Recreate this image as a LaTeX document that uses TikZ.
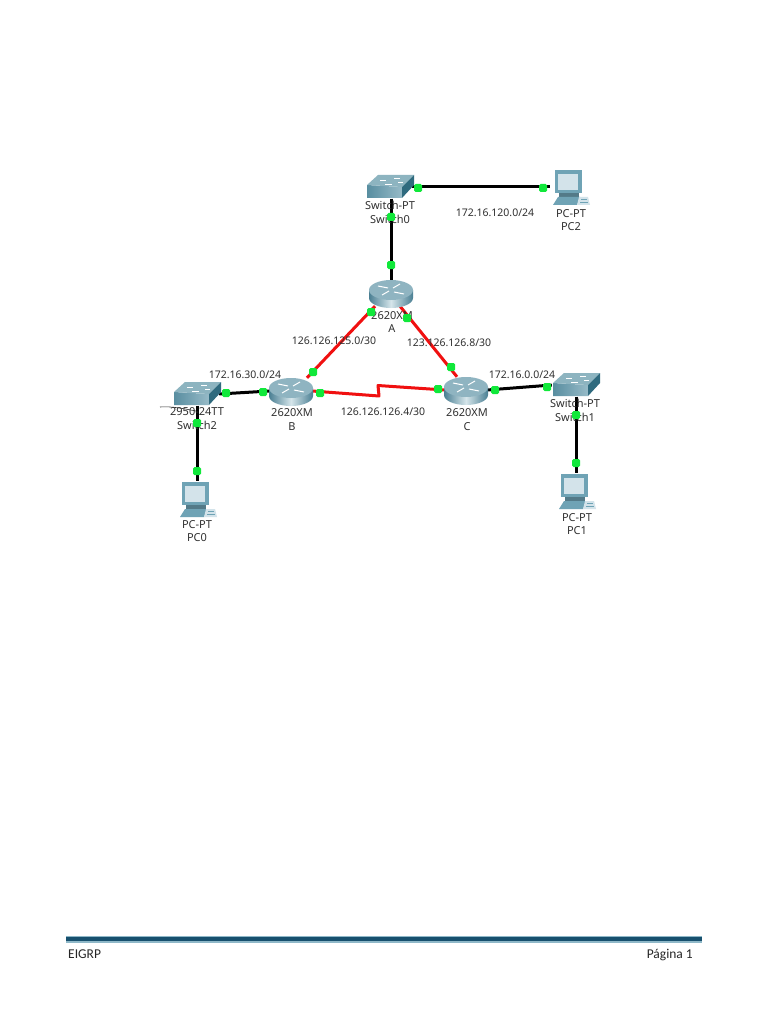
\documentclass[tikz,border=0pt]{standalone}
\usepackage{fontspec}
\setmainfont{Noto Sans}
\newfontfamily\footfont{Carlito}
\definecolor{swtop}{HTML}{8DB4C0}
\definecolor{swfront}{HTML}{6A9DAF}
\definecolor{swside}{HTML}{2F6A7E}
\definecolor{rtdark}{HTML}{4A7F93}
\definecolor{rtlight}{HTML}{D5E5EA}
\definecolor{rttop}{HTML}{8FB4C1}
\definecolor{pcbody}{HTML}{6FA3B5}
\definecolor{pcscreen}{HTML}{D3E3EA}
\definecolor{lab}{HTML}{303030}
\definecolor{linkgreen}{HTML}{10E83A}
\definecolor{linkred}{HTML}{F01010}
\definecolor{barblue}{HTML}{17506E}
\definecolor{barlight}{HTML}{8FB8C8}
\tikzset{
  x=1pt,y=-1pt,
  swbox/.style={minimum width=46pt,minimum height=23pt,inner sep=0pt},
  rtbox/.style={minimum width=42pt,minimum height=26pt,inner sep=0pt},
  pcbox/.style={minimum width=40pt,minimum height=36pt,inner sep=0pt},
  lan/.style={draw=black,line width=3pt},
  wan/.style={draw=linkred,line width=3pt,line join=round},
  dot/.style={fill=linkgreen,rounded corners=1.5pt,minimum width=8pt,minimum height=8pt,inner sep=0pt},
  lbl/.style={font=\fontsize{11}{13.5}\selectfont,text=lab,inner sep=0pt,align=center},
  iplbl/.style={font=\fontsize{10.5}{12}\selectfont,text=lab,inner sep=0pt},
  foot/.style={font=\footfont\fontsize{13.5}{15}\selectfont,text=black!85,inner sep=0pt},
  swicon/.pic={
    \shade[left color=swfront!70!swside,right color=swfront!70!white] (-22,-2) -- (13,0) -- (13,11) -- (-22,11) -- cycle;
    \fill[swtop] (-22,-2) -- (-11,-12) -- (25,-12) -- (13,0) -- cycle;
    \fill[swside] (13,0) -- (25,-12) -- (25,-2) -- (13,11) -- cycle;
    \draw[white,line width=.7pt] (-9,-7) -- (-3,-7) (5,-9) -- (11,-9) (-4,-3) -- (3,-3) (9,-5) -- (14,-5);
  },
  rticon/.pic={
    \shade[left color=rtdark,right color=rtdark,middle color=rtlight]
      (-22,-3) -- (-22,5) arc[start angle=180,end angle=0,x radius=22,y radius=10] -- (22,-3) -- cycle;
    \fill[rttop] (0,-3) ellipse[x radius=22,y radius=10];
    \draw[white,line width=1pt] (-13,-7) -- (-3,-5) (13,1) -- (3,-1) (-9,2) -- (-2,-2) (9,-9) -- (2,-5);
  },
  pcicon/.pic={
    \fill[pcbody] (-15,-17) -- (12,-17) -- (12,6) -- (-15,6) -- cycle;
    \fill[pcscreen] (-12,-13) rectangle (8,3);
    \fill[pcbody!75!black] (-11,6) rectangle (9,10);
    \fill[pcbody] (-17,18) -- (-12,10) -- (10,10) -- (7,18) -- cycle;
    \fill[pcscreen] (9,10) -- (18,10) -- (20,18) -- (7,18) -- cycle;
    \draw[pcbody,line width=.7pt] (11,12) -- (17,12) (10,15) -- (18,15);
  }
}
\begin{document}
\begin{tikzpicture}
\useasboundingbox (0,0) rectangle (768,1024);
\fill[white] (0,0) rectangle (768,1024);

% devices (anchors for the connectors)
\node[swbox] (sw0) at (389,187) {};
\node[swbox] (sw1) at (575,385) {};
\node[swbox] (sw2) at (196,394) {};
\node[rtbox] (ra) at (391,293) {};
\node[rtbox] (rb) at (291,391) {};
\node[rtbox] (rc) at (466,390) {};
\node[pcbox] (pc0) at (197,499) {};
\node[pcbox] (pc1) at (576,491) {};
\node[pcbox] (pc2) at (570,187) {};
\coordinate (zz1) at (379,396);
\coordinate (zz2) at (378,385.5);
\coordinate (zz3) at (400,387);

% connectors
\draw[lan] (sw0.south -| ra.north) -- (ra.north);
\draw[lan] (sw0.east) -- (pc2.west);
\draw[lan] (sw2.east) -- (rb.west);
\draw[lan] (rc.east) -- (sw1.west);
\draw[lan] (sw2.south -| pc0.north) -- (pc0.north);
\draw[lan] (sw1.south -| pc1.north) -- (pc1.north);
\draw[wan] ([xshift=-16pt]ra.south) -- ([xshift=16pt]rb.north);
\draw[wan] ([xshift=9pt]ra.south) -- ([xshift=-9pt]rc.north);
\draw[wan] (rb.east) -- (zz1) -- (zz2) -- (zz3) -- (rc.west);

% icons
\pic at (sw0) {swicon};
\pic at (sw1) {swicon};
\pic at (sw2) {swicon};
\pic at (ra) {rticon};
\pic at (rb) {rticon};
\pic at (rc) {rticon};
\pic at (pc0) {pcicon};
\pic at (pc1) {pcicon};
\pic at (pc2) {pcicon};

% stray pen stroke
\draw[black!80,line width=.6pt] (160,407) .. controls (172,406) and (185,409) .. (196,411);

% labels
\node[lbl] (l1) at (390,212.5) {Switch-PT\\Switch0};
\node[lbl] (l2) at (571,220) {PC-PT\\PC2};
\node[iplbl] (l3) at (495,213) {172.16.120.0/24};
\node[lbl] (l4) at (392,322) {2620XM\\A};
\node[iplbl] (l5) at (334,341) {126.126.125.0/30};
\node[iplbl] (l6) at (449,343) {123.126.126.8/30};
\node[iplbl] (l7) at (245,375) {172.16.30.0/24};
\node[lbl] (l8) at (292,419.5) {2620XM\\B};
\node[iplbl] (l9) at (383,412) {126.126.126.4/30};
\node[lbl] (l10) at (467,419.5) {2620XM\\C};
\node[iplbl] (l11) at (522,375) {172.16.0.0/24};
\node[lbl] (l12) at (575,410.5) {Switch-PT\\Switch1};
\node[lbl] (l13) at (197,418.5) {2950-24TT\\Switch2};
\node[lbl] (l14) at (197,531) {PC-PT\\PC0};
\node[lbl] (l15) at (577,524) {PC-PT\\PC1};

% link lights
\foreach \n/\p in {a/{391,217},b/{391,265},c/{418,188},d/{543,188},e/{371,312},f/{407,318},
  g/{451,367},h/{313,372},i/{320,393},j/{226,393},k/{263,392},l/{197,423},m/{197,471},
  n/{438,389},o/{495,390},p/{547,387},q/{576,415},r/{576,463}}
  \node[dot] (d\n) at (\p) {};

% footer
\fill[barlight] (66,936) rectangle (702,942.5);
\fill[barblue] (66,937) rectangle (702,941);
\node[foot,anchor=base west] (fl) at (68,958) {EIGRP};
\node[foot,anchor=base east] (fr) at (693,958) {Página 1};
\end{tikzpicture}
\end{document}
